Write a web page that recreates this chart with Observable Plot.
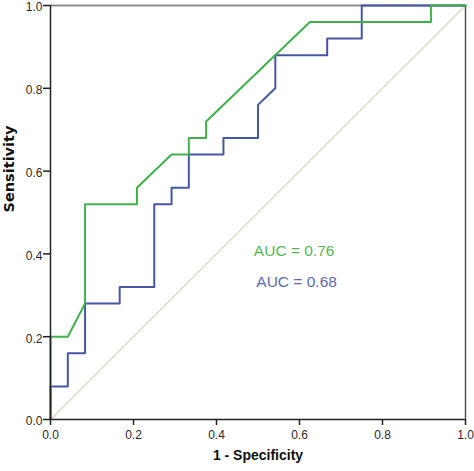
<!DOCTYPE html>
<html>
<head>
<meta charset="utf-8">
<script src="https://cdn.jsdelivr.net/npm/d3@7"></script>
<script src="https://cdn.jsdelivr.net/npm/@observablehq/plot@0.6"></script>
<style>
  html, body { margin: 0; padding: 0; background: #fff; }
  #chart svg { display: block; }
</style>
</head>
<body>
<div id="chart"></div>
<script>
// ROC curve of the first marker (green): 1 - specificity vs sensitivity
const fprA = [0, 0, 0.0417, 0.0833, 0.0833, 0.2083, 0.2083, 0.2917, 0.3333, 0.3333, 0.375, 0.375, 0.625, 0.9167, 0.9167, 1];
const tprA = [0, 0.20, 0.20, 0.28, 0.52, 0.52, 0.56, 0.64, 0.64, 0.68, 0.68, 0.72, 0.96, 0.96, 1, 1];

// ROC curve of the second marker (blue)
const fprB = [0, 0, 0.0417, 0.0417, 0.0833, 0.0833, 0.1667, 0.1667, 0.25, 0.25, 0.2917, 0.2917, 0.3333, 0.3333,
              0.4167, 0.4167, 0.5, 0.5, 0.5417, 0.5417, 0.6667, 0.6667, 0.75, 0.75, 1];
const tprB = [0, 0.08, 0.08, 0.16, 0.16, 0.28, 0.28, 0.32, 0.32, 0.52, 0.52, 0.56, 0.56, 0.64,
              0.64, 0.68, 0.68, 0.76, 0.80, 0.88, 0.88, 0.92, 0.92, 1, 1];

// Chance line
const refX = [0, 1];
const refY = [0, 1];

const aucLabels = ["AUC = 0.76", "AUC = 0.68"];
const ticks = [0, 0.2, 0.4, 0.6, 0.8, 1.0];
const xTitle = "1 - Specificity";
const yTitle = "Sensitivity";

const GREEN = "#3fb24b";
const BLUE = "#4757a6";

const curveA = fprA.map((x, i) => ({x, y: tprA[i]}));
const curveB = fprB.map((x, i) => ({x, y: tprB[i]}));
const diag = refX.map((x, i) => ({x, y: refY[i]}));

const fmt = d3.format(".1f");

const chart = Plot.plot({
  width: 474,
  height: 471,
  marginLeft: 50,
  marginRight: 9,
  marginTop: 5,
  marginBottom: 52,
  style: {fontFamily: "'Liberation Sans', Arial, sans-serif", fontSize: "12px", color: "#2a2a2a", background: "#fff"},
  x: {domain: [0, 1]},
  y: {domain: [0, 1]},
  marks: [
    Plot.line(diag, {x: "x", y: "y", stroke: "#dcdac2", strokeWidth: 1.4}),
    // frame: grey top, dark right
    Plot.ruleY([1], {stroke: "#8c8c8c", strokeWidth: 2}),
    Plot.ruleX([1], {stroke: "#555", strokeWidth: 1.5}),
    Plot.line(curveB, {x: "x", y: "y", stroke: BLUE, strokeWidth: 2, curve: "linear"}),
    Plot.line(curveA, {x: "x", y: "y", stroke: GREEN, strokeWidth: 2, curve: "linear"}),
    Plot.ruleX([0], {stroke: "#222", strokeWidth: 1.5}),
    Plot.ruleY([0], {stroke: "#222", strokeWidth: 1.5}),
    Plot.axisX({ticks, tickFormat: fmt, tickSize: 6, tickPadding: 5, label: null, stroke: "#222", strokeWidth: 1.5}),
    // y ticks, then their labels, which sit slightly below the ticks
    Plot.axisY({ticks, tickFormat: () => "", tickSize: 7, label: null, stroke: "#222", strokeWidth: 1.5}),
    Plot.axisY({ticks, tickFormat: fmt, tickSize: 0, tickPadding: 8, dy: 2, label: null}),
    Plot.text([aucLabels[0]], {x: 0.49, y: 0.408, text: d => d, textAnchor: "start", fill: "#55b659", fontSize: 15.5}),
    Plot.text([aucLabels[1]], {x: 0.496, y: 0.331, text: d => d, textAnchor: "start", fill: "#5b69ad", fontSize: 15.5}),
    Plot.text([xTitle], {frameAnchor: "bottom", dy: 40.5, text: d => d, fontWeight: "bold", fontSize: 14, fill: "#111"}),
    Plot.text([yTitle], {frameAnchor: "left", dx: -41.5, rotate: -90, text: d => d, fontWeight: "bold", fontSize: 14.5,
                         fontFamily: "'DejaVu Sans', Verdana, sans-serif", fill: "#111"})
  ]
});

document.getElementById("chart").appendChild(chart);
</script>
</body>
</html>
